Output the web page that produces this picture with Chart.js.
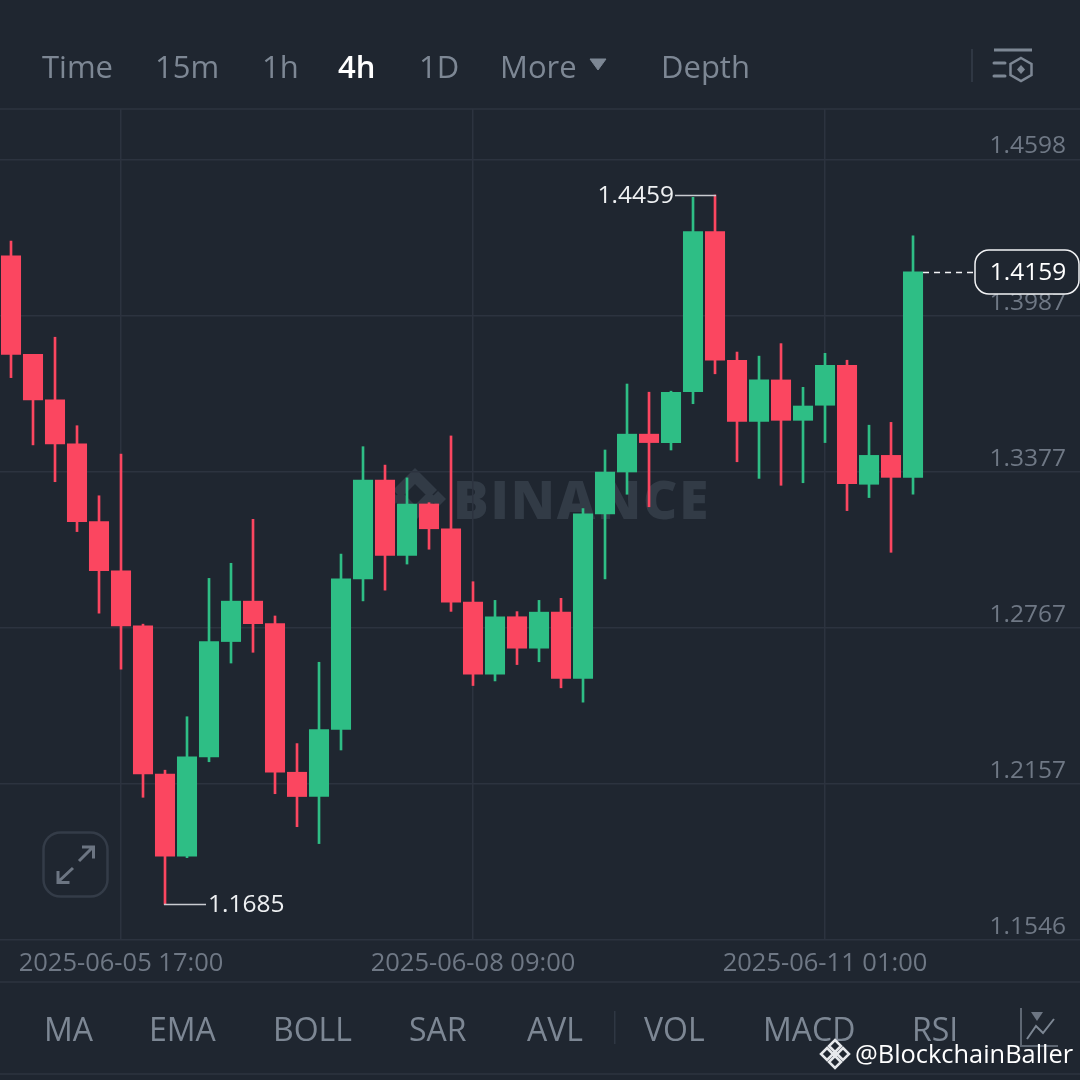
<!DOCTYPE html>
<html>
<head>
<meta charset="utf-8">
<style>
  html,body{margin:0;padding:0;background:#1F2630;width:1080px;height:1080px;overflow:hidden;font-family:"Open Sans",sans-serif;}
  #wrap{position:relative;width:1080px;height:1080px;}
  canvas{position:absolute;left:0;top:0;z-index:2;}
  .t{position:absolute;white-space:nowrap;line-height:1;z-index:3;color:#7D8794;}
  .h{top:51px;font-size:31px;}
  .f{top:1013px;font-size:32px;}
  .rule{position:absolute;left:0;width:1080px;background:#29303B;z-index:1;}
  .wm{position:absolute;z-index:1;left:453px;top:470px;font:800 53px "Open Sans",sans-serif;color:#323B46;letter-spacing:1.8px;line-height:1.1;}
  svg{position:absolute;z-index:3;overflow:visible;}
</style>
</head>
<body>
<div id="wrap">
  <div class="rule" style="top:108px;height:2px"></div>
  <div class="rule" style="top:981px;height:2px"></div>
  <div class="rule" style="top:1073px;height:2px"></div>

  <span class="t h" style="left:42px">Time</span>
  <span class="t h" style="left:155px">15m</span>
  <span class="t h" style="left:262px">1h</span>
  <span class="t h" style="left:338px;color:#fff;font-weight:600">4h</span>
  <span class="t h" style="left:419px">1D</span>
  <span class="t h" style="left:500px">More</span>
  <span class="t h" style="left:661px">Depth</span>
  <svg style="left:0;top:0" width="1080" height="110">
    <path d="M590 59h16l-8 11z" fill="#7D8794" stroke="#7D8794" stroke-width="1" stroke-linejoin="round"/>
    <rect x="971" y="49" width="2" height="33" fill="#2F3743"/>
    <path d="M994 50h38" stroke="#7D8794" stroke-width="3"/>
    <path d="M994 63h11M994 76h11" stroke="#7D8794" stroke-width="3" stroke-linecap="round"/>
    <path d="M1021 58l10.5 6v11l-10.5 6-10.5-6v-11z" fill="none" stroke="#7D8794" stroke-width="2.500"/>
    <path d="M1021 65l4 4.500-4 4.500-4-4.500z" fill="#7D8794"/>
  </svg>

  <div class="wm">BINANCE</div>
  <svg style="left:0;top:0;z-index:1" width="1080" height="1080">
    <path d="M416 468l22 22-8 8-14-14-14 14-8-8zM393 491l8 8-8 8-8-8zM439 491l8 8-8 8-8-8zM416 505l14-14 8 8-22 22-22-22 8-8z" fill="#323B46" transform="translate(-1,0)"/>
  </svg>

  <span class="t f" style="left:44px">MA</span>
  <span class="t f" style="left:149px">EMA</span>
  <span class="t f" style="left:273px">BOLL</span>
  <span class="t f" style="left:409px">SAR</span>
  <span class="t f" style="left:527px">AVL</span>
  <span class="t f" style="left:644px">VOL</span>
  <span class="t f" style="left:763px">MACD</span>
  <span class="t f" style="left:912px">RSI</span>
  <svg style="left:0;top:0" width="1080" height="1080">
    <rect x="614" y="1011" width="1.500" height="33" fill="#2F3743"/>
    <path d="M1021 1008v38h37" fill="none" stroke="#5E6773" stroke-width="2"/>
    <path d="M1031 1012h12l-6 9z" fill="#6C7582"/>
    <path d="M1027 1039l9-13 7 7 11-14" fill="none" stroke="#7D8794" stroke-width="2"/>
    <!-- expand button -->
    <rect x="43.500" y="832.500" width="64" height="64" rx="17" fill="none" stroke="#343C48" stroke-width="2.500"/>
    <path d="M79 861l14-14M82 847h11.500v11.500M73 868l-15 14M58 871v11.500h11.500" fill="none" stroke="#6C7582" stroke-width="3"/>
    <!-- footer mark -->
    <g fill="#E6E8EB">
      <path d="M835 1040l6 6-6 6-6-6zM835 1056l6 6-6 6-6-6zM827 1048l6 6-6 6-6-6zM843 1048l6 6-6 6-6-6z" fill="none" stroke="#E6E8EB" stroke-width="2.500"/>
      <path d="M835 1050l4 4-4 4-4-4z"/>
    </g>
  </svg>
  <span class="t" style="left:855px;top:1041px;font-size:25.4px;color:#fff;">@BlockchainBaller</span>

  <canvas id="c" width="1080" height="1080"></canvas>
</div>

<script src="https://cdn.jsdelivr.net/npm/chart.js@4"></script>
<script>
const opens  = [1.4221,1.3836,1.3658,1.3486,1.3182,1.2990,1.2774,1.2195,1.1874,1.2262,1.2713,1.2871,1.2783,1.2202,1.2107,1.2369,1.2958,1.3344,1.3050,1.3251,1.3154,1.2867,1.2585,1.2810,1.2687,1.2828,1.2569,1.3212,1.3376,1.3524,1.3491,1.3690,1.4316,1.3813,1.3574,1.3736,1.3578,1.3637,1.3793,1.3328,1.3441,1.3355];
const closes = [1.3836,1.3658,1.3486,1.3182,1.2990,1.2774,1.2195,1.1874,1.2262,1.2713,1.2871,1.2783,1.2202,1.2107,1.2369,1.2958,1.3344,1.3050,1.3251,1.3154,1.2867,1.2585,1.2810,1.2687,1.2828,1.2569,1.3212,1.3376,1.3524,1.3491,1.3688,1.4316,1.3813,1.3574,1.3736,1.3578,1.3634,1.3793,1.3330,1.3441,1.3355,1.4159];
const highs  = [1.4279,1.3836,1.3903,1.3557,1.3283,1.3446,1.2781,1.2210,1.2419,1.2960,1.3019,1.3191,1.2813,1.2314,1.2632,1.3055,1.3475,1.3403,1.3353,1.3256,1.3517,1.2947,1.2874,1.2830,1.2874,1.2882,1.3233,1.3462,1.3720,1.3688,1.3692,1.4450,1.4459,1.3845,1.3829,1.3878,1.3707,1.3840,1.3813,1.3559,1.3570,1.4299];
const lows   = [1.3745,1.3482,1.3338,1.3143,1.2824,1.2605,1.2104,1.1685,1.1868,1.2243,1.2629,1.2671,1.2118,1.1989,1.1923,1.2289,1.2872,1.2914,1.3016,1.3074,1.2831,1.2541,1.2559,1.2623,1.2634,1.2532,1.2476,1.2958,1.3289,1.3240,1.3462,1.3643,1.3760,1.3416,1.3351,1.3324,1.3334,1.3491,1.3225,1.3276,1.3062,1.3289];
const priceTicks = [1.4598,1.3987,1.3377,1.2767,1.2157,1.1546];
const timeTickIndex = [5,21,37];
const timeTickLabels = ['2025-06-05 17:00','2025-06-08 09:00','2025-06-11 01:00'];
const maxMark = {index:32, value:1.4459, label:'1.4459'};
const minMark = {index:7,  value:1.1685, label:'1.1685'};
const lastMark = {index:41, value:1.4159, label:'1.4159'};

const UP='#2EBE85', DOWN='#FB4660', BG='#1F2630', FONT='"Open Sans",sans-serif';
const colour = ctx => closes[ctx.dataIndex] >= opens[ctx.dataIndex] ? UP : DOWN;

const marks = {
  id:'marks',
  afterDraw(chart){
    const {ctx, scales:{x,y}} = chart;
    ctx.save();
    ctx.font = '24.5px '+FONT; ctx.textBaseline='middle'; ctx.lineWidth=1.5;
    ctx.strokeStyle='#C9CCD1'; ctx.fillStyle='#EEF0F2';
    // highest
    let px=x.getPixelForValue(maxMark.index), py=Math.round(y.getPixelForValue(maxMark.value))+0.5;
    ctx.beginPath(); ctx.moveTo(px+1,py); ctx.lineTo(px-40,py); ctx.stroke();
    ctx.textAlign='right'; ctx.fillText(maxMark.label,px-41,py+1);
    // lowest
    px=x.getPixelForValue(minMark.index); py=Math.round(y.getPixelForValue(minMark.value))+0.5;
    ctx.beginPath(); ctx.moveTo(px-1,py); ctx.lineTo(px+41,py); ctx.stroke();
    ctx.textAlign='left'; ctx.fillText(minMark.label,px+43,py+1);
    // last price
    px=x.getPixelForValue(lastMark.index); py=Math.round(y.getPixelForValue(lastMark.value))+0.5;
    ctx.strokeStyle='#F2F3F5'; ctx.setLineDash([6,5]);
    ctx.beginPath(); ctx.moveTo(px+10,py); ctx.lineTo(974,py); ctx.stroke(); ctx.setLineDash([]);
    ctx.beginPath(); ctx.roundRect(975,250,104,44,14); ctx.fillStyle=BG; ctx.fill(); ctx.stroke();
    ctx.fillStyle='#FFFFFF'; ctx.textAlign='center'; ctx.fillText(lastMark.label,1028,py+1);
    ctx.restore();
  }
};

new Chart(document.getElementById('c'),{
  type:'bar',
  plugins:[marks],
  data:{
    datasets:[
      {label:'wick', order:2, barThickness:2, grouped:false,
       data:lows.map((l,i)=>({x:i,y:[l,highs[i]]})), backgroundColor:colour},
      {label:'body', order:1, barThickness:19.4, grouped:false,
       data:opens.map((o,i)=>({x:i,y:[o,closes[i]]})), backgroundColor:colour}
    ]
  },
  options:{
    responsive:false, animation:false, devicePixelRatio:1,
    layout:{padding:{top:109,left:0,right:0,bottom:0}},
    plugins:{legend:{display:false},tooltip:{enabled:false}},
    datasets:{bar:{borderWidth:0,borderSkipped:false,grouped:false}},
    scales:{
      x:{type:'linear',min:-0.5,max:48.59,offset:false,
        afterBuildTicks(s){s.ticks=timeTickIndex.map(v=>({value:v}));},
        afterFit(s){s.height=140;},
        grid:{color:'#2C333F',lineWidth:1.5,drawTicks:false,offset:false},
        border:{display:false},
        ticks:{autoSkip:false,maxRotation:0,minRotation:0,padding:8,color:'#6F7885',
          font:{family:FONT,size:25.5},
          callback:v=>timeTickLabels[timeTickIndex.indexOf(v)]}
      },
      y:{type:'linear',position:'right',min:1.1546,max:1.47954,
        afterBuildTicks(s){s.ticks=priceTicks.map(v=>({value:v}));},
        afterFit(s){s.width=0;},
        grid:{color:'#2C333F',lineWidth:1.5,drawTicks:false},
        border:{display:false},
        ticks:{mirror:true,padding:-14,labelOffset:-13,color:'#6F7885',
          font:{family:FONT,size:24.5},
          callback:v=>v.toFixed(4)}
      }
    }
  }
});
</script>
</body>
</html>
